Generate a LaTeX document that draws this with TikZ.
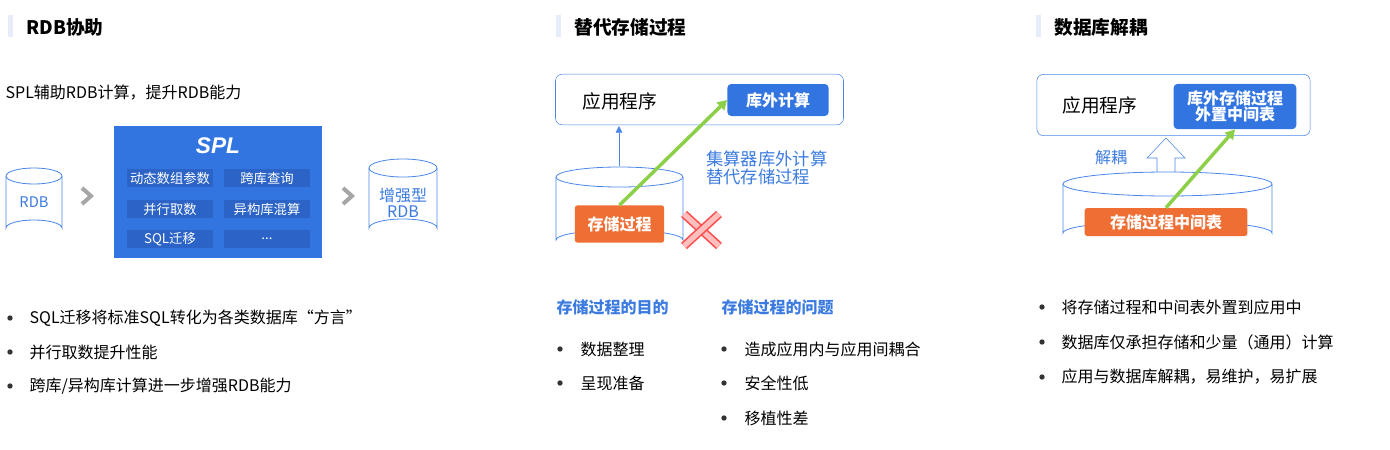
\documentclass[tikz,border=0pt]{standalone}
\usepackage{fontspec}
\setmainfont{Noto Sans CJK SC}
\newfontfamily\splfont{Liberation Sans}
\usetikzlibrary{positioning,arrows.meta}
\definecolor{splblue}{HTML}{3375E0}
\definecolor{celblue}{HTML}{2B63C6}
\definecolor{lineblue}{HTML}{4A86E8}
\definecolor{txtblue}{HTML}{3B7BE0}
\definecolor{sporange}{HTML}{EE6E33}
\definecolor{arrgreen}{HTML}{8CD04A}
\definecolor{barblue}{HTML}{E6ECFA}
\tikzset{
  ptsz/.style={node font=\fontsize{#1}{#1}\selectfont},
  title/.style={anchor=west, ptsz=14, font=\bfseries},
  bullet/.style={anchor=west, ptsz=12},
  dot/.style={circle, fill=black!80, inner sep=0pt, minimum size=4pt},
  cell/.style={fill=celblue, text=white, ptsz=10, minimum width=64pt, minimum height=14pt, inner sep=0pt},
  bluebox/.style={fill=splblue, text=white, rounded corners=3pt, font=\bfseries, ptsz=12, inner sep=0pt, align=center},
  orbox/.style={fill=sporange, text=white, rounded corners=2pt, font=\bfseries, ptsz=12, inner sep=0pt},
  appbox/.style={draw=lineblue, rounded corners=5pt, inner sep=0pt},
  cyl/.style={draw=lineblue, fill=white, line width=0.6pt},
  chev/.style={draw=black!35, line width=3pt},
  green/.style={-{Triangle[length=7pt,width=8pt]}, arrgreen, line width=2.6pt},
  cross/.style={draw=red!70, double=red!25, double distance=4pt, line width=1.2pt},
}
\newcommand{\cylinder}[5]{% x, y top, width, height, ry
  \fill[white] (#1,#2) rectangle ++(#3,#4);
  \draw[cyl] (#1,#2) -- ++(0,#4) arc[start angle=180,end angle=360,x radius=#3/2,y radius=#5] -- ++(0,-#4);
  \draw[cyl] (#1+#3/2,#2) ellipse[x radius=#3/2,y radius=#5];}
\begin{document}
\begin{tikzpicture}[x=0.75pt,y=-0.75pt]
  \useasboundingbox (0,0) rectangle (1390,450);
  % titles
  \foreach \x in {8,556,1036} \fill[barblue] (\x,15) rectangle ++(5,22);
  \node[title] (t1) at (20,27) {RDB协助};
  \node[title] (t2) at (568,27) {替代存储过程};
  \node[title] (t3) at (1048,27) {数据库解耦};

  % ---- RDB assist
  \node[anchor=west, ptsz=12] (sub) at (0,93) {SPL辅助RDB计算，提升RDB能力};
  \cylinder{6}{176}{56}{52}{8}
  \node[text=txtblue, ptsz=11] (rdb) at (34,202) {RDB};
  \draw[chev] (82,188) -- (91,196) -- (82,204);
  \fill[splblue] (114,126) rectangle (322,258);
  \node[text=white, ptsz=17, font=\splfont\bfseries\itshape] (spl) at (218,146) {SPL};
  \node[cell] (c1) at (170,178) {动态数组参数};
  \node[cell] (c2) at (267,178) {跨库查询};
  \node[cell] (c3) at (170,209) {并行取数};
  \node[cell] (c4) at (267,209) {异构库混算};
  \node[cell] (c5) at (170,239) {SQL迁移};
  \node[cell] (c6) at (267,239) {...};
  \draw[chev] (343,188) -- (352,196) -- (343,204);
  \cylinder{369}{168}{68}{60}{9}
  \node[text=txtblue, ptsz=12, align=center] (rdb2) at (403,203) {增强型\\RDB};
  \foreach \y/\t in {318/{SQL迁移将标准SQL转化为各类数据库“方言”},352/{并行取数提升性能},386/{跨库/异构库计算进一步增强RDB能力}} {
    \node[dot] at (10,\y) {};
    \node[bullet] at (24,\y) {\t};
  }

  % ---- stored procedure replacement
  \node[appbox, minimum width=216pt, minimum height=38pt] (app1) at (699.5,99.5) {};
  \node[anchor=west, ptsz=14] (app1t) at (576,101) {应用程序};
  \node[bluebox, minimum width=76pt, minimum height=24pt] (ext1) at (778,100) {库外计算};
  \draw[-{Triangle[length=5pt,width=5pt]}, lineblue] (619,166) -- (619,126);
  \cylinder{556}{177}{127}{63}{10}
  \node[orbox, minimum width=67pt, minimum height=28pt] (sp1) at (619.5,224) {存储过程};
  \draw[green] (sp1.north) -- (ext1.west);
  \node[text=txtblue, ptsz=13, anchor=west, align=left] (note) at (700,168) {集算器库外计算\\替代存储过程};
  \draw[cross] (684,214) -- (719,246);
  \draw[cross] (719,214) -- (684,246);
  \node[anchor=west, text=txtblue, ptsz=12, font=\bfseries] (h1) at (551,307) {存储过程的目的};
  \node[anchor=west, text=txtblue, ptsz=12, font=\bfseries] (h2) at (716,307) {存储过程的问题};
  \foreach \y/\t in {349/数据整理,383/呈现准备} {
    \node[dot] at (560,\y) {};
    \node[bullet] at (575,\y) {\t};
  }
  \foreach \y/\t in {349/造成应用内与应用间耦合,383/安全性低,418/移植性差} {
    \node[dot] at (724,\y) {};
    \node[bullet] at (739,\y) {\t};
  }

  % ---- decoupling
  \node[appbox, minimum width=205pt, minimum height=46pt] (app2) at (1173.5,105) {};
  \node[anchor=west, ptsz=14] (app2t) at (1056,105) {应用程序};
  \node[bluebox, minimum width=92pt, minimum height=34pt] (ext2) at (1235,106.5) {库外存储过程\\外置中间表};
  \draw[lineblue, fill=white] (1157,176) -- (1157,158) -- (1147,158) -- (1166,138) -- (1185,158) -- (1175,158) -- (1175,176) -- cycle;
  \node[text=txtblue, ptsz=12] (dec) at (1111,157) {解耦};
  \cylinder{1063}{184}{209}{49}{12}
  \node[orbox, minimum width=122pt, minimum height=21pt] (sp2) at (1166,222) {存储过程中间表};
  \draw[green] (sp2.north) -- (ext2.south);
  \foreach \y/\t in {307/将存储过程和中间表外置到应用中,342/数据库仅承担存储和少量（通用）计算,377/应用与数据库解耦，易维护，易扩展} {
    \node[dot] at (1042,\y) {};
    \node[bullet] at (1056,\y) {\t};
  }
\end{tikzpicture}
\end{document}
